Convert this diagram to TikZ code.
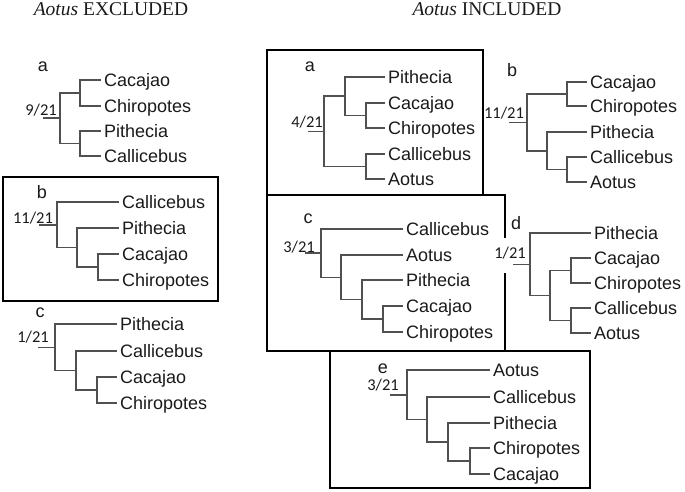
\documentclass[tikz,border=0pt]{standalone}
\usepackage{fontspec}
\setmainfont{Liberation Serif}
\newfontfamily\taxfont{Liberation Sans}
\newfontfamily\fracfont{Carlito}
\definecolor{txt}{HTML}{1A1A1A}
\definecolor{brc}{HTML}{505050}
\begin{document}
\begin{tikzpicture}[x=1pt,y=-1pt,
 tax/.style={anchor=west,inner xsep=3pt,inner ysep=0pt,text height=12.8pt,text depth=0pt,font=\taxfont\fontsize{18}{20}\selectfont,text=txt},
 lab/.style={anchor=base,inner sep=0pt,font=\taxfont\fontsize{18}{20}\selectfont,text=txt},
 frac/.style={inner sep=0pt,text height=10.4pt,text depth=0pt,font=\fracfont\fontsize{16.5}{18}\selectfont,text=txt},
 br/.style={draw=brc,line width=1.5pt},
 boxline/.style={draw=black,line width=2.2pt},
 title/.style={anchor=base,inner sep=0pt,font=\fontsize{19.5}{22}\selectfont,text=txt}]
\useasboundingbox (0,0) rectangle (685,492);

% titles
\node[title] (t1) at (111,16) {\textit{Aotus} EXCLUDED};
\node[title] (t2) at (487,16) {\textit{Aotus} INCLUDED};

% boxes
\draw[boxline] (3,177) rectangle (218,301);
\draw[boxline] (267,50) rectangle (483,195);
\draw[boxline] (505,238) -- (505,195) -- (267,195) -- (267,351) -- (505,351) -- (505,273);
\draw[boxline] (330,351) rectangle (590,488);

% ---- EXCLUDED a
\node[tax] (ea1) at (101,80) {Cacajao};
\node[tax] (ea2) at (101,106) {Chiropotes};
\node[tax] (ea3) at (101,131) {Pithecia};
\node[tax] (ea4) at (101,156) {Callicebus};
\coordinate (ean1) at (80,93);
\coordinate (ean2) at (80,143.5);
\coordinate (ear) at (60,118.25);
\coordinate (eas) at (43,118.25);
\draw[br] (eas) -- (ear) (ear) |- (ean1) (ear) |- (ean2)
  (ean1) |- (ea1) (ean1) |- (ea2) (ean2) |- (ea3) (ean2) |- (ea4);
\node[lab] (eal) at (43,72) {a};
\node[frac] (eaf) at (41,110) {9/21};

% ---- EXCLUDED b
\node[tax] (eb1) at (119,202) {Callicebus};
\node[tax] (eb2) at (119,228) {Pithecia};
\node[tax] (eb3) at (119,254) {Cacajao};
\node[tax] (eb4) at (119,280) {Chiropotes};
\coordinate (ebn3) at (98,267);
\coordinate (ebn2) at (77,247.5);
\coordinate (ebr) at (57,224.75);
\coordinate (ebs) at (39,224.75);
\draw[br] (ebs) -- (ebr) (ebr) |- (eb1) (ebr) |- (ebn2)
  (ebn2) |- (eb2) (ebn2) |- (ebn3) (ebn3) |- (eb3) (ebn3) |- (eb4);
\node[lab] (ebl) at (42,198) {b};
\node[frac] (ebf) at (33,218) {11/21};

% ---- EXCLUDED c
\node[tax] (ec1) at (117,324) {Pithecia};
\node[tax] (ec2) at (117,351) {Callicebus};
\node[tax] (ec3) at (117,377) {Cacajao};
\node[tax] (ec4) at (117,403) {Chiropotes};
\coordinate (ecn3) at (97,390);
\coordinate (ecn2) at (76,370.5);
\coordinate (ecr) at (55,347.25);
\coordinate (ecs) at (38,347.25);
\draw[br] (ecs) -- (ecr) (ecr) |- (ec1) (ecr) |- (ecn2)
  (ecn2) |- (ec2) (ecn2) |- (ecn3) (ecn3) |- (ec3) (ecn3) |- (ec4);
\node[lab] (ecl) at (40,317) {c};
\node[frac] (ecf) at (33,337) {1/21};

% ---- INCLUDED a
\node[tax] (ia1) at (385,77) {Pithecia};
\node[tax] (ia2) at (385,103) {Cacajao};
\node[tax] (ia3) at (385,128) {Chiropotes};
\node[tax] (ia4) at (385,154) {Callicebus};
\node[tax] (ia5) at (385,179) {Aotus};
\coordinate (iacc) at (366,115.5);
\coordinate (iap) at (345,96.25);
\coordinate (iaca) at (366,166.5);
\coordinate (iar) at (324,131.4);
\coordinate (ias) at (308,131.4);
\draw[br] (ias) -- (iar) (iar) |- (iap) (iar) |- (iaca)
  (iap) |- (ia1) (iap) |- (iacc) (iacc) |- (ia2) (iacc) |- (ia3)
  (iaca) |- (ia4) (iaca) |- (ia5);
\node[lab] (ial) at (310,72) {a};
\node[frac] (iaf) at (307,122) {4/21};

% ---- INCLUDED b
\node[tax] (ib1) at (587,82) {Cacajao};
\node[tax] (ib2) at (587,106) {Chiropotes};
\node[tax] (ib3) at (587,132) {Pithecia};
\node[tax] (ib4) at (587,157) {Callicebus};
\node[tax] (ib5) at (587,182) {Aotus};
\coordinate (ibcc) at (567,94);
\coordinate (ibca) at (567,169.5);
\coordinate (ibp) at (547,150.75);
\coordinate (ibr) at (527,122.4);
\coordinate (ibs) at (509,122.4);
\draw[br] (ibs) -- (ibr) (ibr) |- (ibcc) (ibr) |- (ibp)
  (ibcc) |- (ib1) (ibcc) |- (ib2) (ibp) |- (ib3) (ibp) |- (ibca)
  (ibca) |- (ib4) (ibca) |- (ib5);
\node[lab] (ibl) at (512,77) {b};
\node[frac] (ibf) at (504,113) {11/21};

% ---- INCLUDED c
\node[tax] (ic1) at (403,229) {Callicebus};
\node[tax] (ic2) at (403,255) {Aotus};
\node[tax] (ic3) at (403,280) {Pithecia};
\node[tax] (ic4) at (403,306) {Cacajao};
\node[tax] (ic5) at (403,332) {Chiropotes};
\coordinate (icn4) at (383,319);
\coordinate (icn3) at (362,299.5);
\coordinate (icn2) at (341,277.25);
\coordinate (icr) at (321,253.1);
\coordinate (ics) at (305,253.1);
\draw[br] (ics) -- (icr) (icr) |- (ic1) (icr) |- (icn2)
  (icn2) |- (ic2) (icn2) |- (icn3) (icn3) |- (ic3) (icn3) |- (icn4)
  (icn4) |- (ic4) (icn4) |- (ic5);
\node[lab] (icl) at (308,223) {c};
\node[frac] (icf) at (299,247) {3/21};

% ---- INCLUDED d
\node[tax] (id1) at (591,233) {Pithecia};
\node[tax] (id2) at (591,258) {Cacajao};
\node[tax] (id3) at (591,283) {Chiropotes};
\node[tax] (id4) at (591,308) {Callicebus};
\node[tax] (id5) at (591,333) {Aotus};
\coordinate (idcc) at (571,270.5);
\coordinate (idca) at (571,320.5);
\coordinate (idn2) at (550,295.5);
\coordinate (idr) at (530,264.25);
\coordinate (ids) at (513,264.25);
\draw[br] (ids) -- (idr) (idr) |- (id1) (idr) |- (idn2)
  (idn2) |- (idcc) (idn2) |- (idca) (idcc) |- (id2) (idcc) |- (id3)
  (idca) |- (id4) (idca) |- (id5);
\node[lab] (idl) at (516,229) {d};
\node[frac] (idf) at (510,253) {1/21};

% ---- INCLUDED e
\node[tax] (ie1) at (490,370) {Aotus};
\node[tax] (ie2) at (490,397) {Callicebus};
\node[tax] (ie3) at (490,423) {Pithecia};
\node[tax] (ie4) at (490,448) {Chiropotes};
\node[tax] (ie5) at (490,474) {Cacajao};
\coordinate (ien4) at (470,461);
\coordinate (ien3) at (448,442);
\coordinate (ien2) at (427,419.5);
\coordinate (ier) at (407,394.75);
\coordinate (ies) at (390,394.75);
\draw[br] (ies) -- (ier) (ier) |- (ie1) (ier) |- (ien2)
  (ien2) |- (ie2) (ien2) |- (ien3) (ien3) |- (ie3) (ien3) |- (ien4)
  (ien4) |- (ie4) (ien4) |- (ie5);
\node[lab] (iel) at (383,373) {e};
\node[frac] (ief) at (383,385) {3/21};
\end{tikzpicture}
\end{document}
